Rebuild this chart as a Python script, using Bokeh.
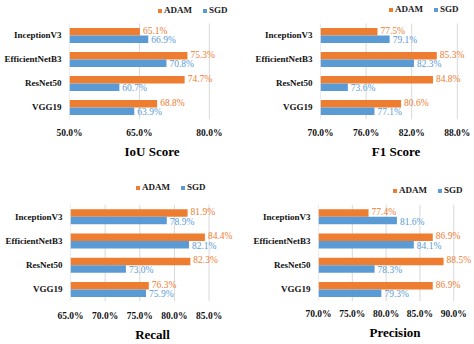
from bokeh.plotting import figure
from bokeh.layouts import column, row
from bokeh.models import ColumnDataSource, Range1d, FixedTicker, PrintfTickFormatter
from bokeh.transform import dodge
from bokeh.core.properties import value
from bokeh.embed import file_html
from bokeh.resources import INLINE

# ---------------- data ----------------
models = ["InceptionV3", "EfficientNetB3", "ResNet50", "VGG19"]
series_names = ["ADAM", "SGD"]

iou_adam = [65.1, 75.3, 74.7, 68.8]
iou_sgd = [66.9, 70.8, 60.7, 63.9]
f1_adam = [77.5, 85.3, 84.8, 80.6]
f1_sgd = [79.1, 82.3, 73.6, 77.1]
recall_adam = [81.9, 84.4, 82.3, 76.3]
recall_sgd = [78.9, 82.1, 73.0, 75.9]
precision_adam = [77.4, 86.9, 88.5, 86.9]
precision_sgd = [81.6, 84.1, 78.3, 79.3]

iou_ticks = [50, 65, 80]
f1_ticks = [70, 76, 82, 88]
recall_ticks = [65, 70, 75, 80, 85]
precision_ticks = [70, 75, 80, 85, 90]

titles = ["IoU Score", "F1 Score", "Recall", "Precision"]

# ---------------- style ----------------
ORANGE = "#ED7D31"
BLUE = "#5B9BD5"
GRID = "#D9D9D9"
FONT = "Liberation Serif"
BAR_H = 0.31
OFF = BAR_H / 2


def panel(title, adam, sgd, ticks, x_end, height, y_top, left_border,
          bottom_border, legend_loc, tick_standoff, title_standoff):
    n = len(models)
    p = figure(width=237, height=height,
               x_range=Range1d(ticks[0], x_end),
               y_range=Range1d(n - 0.5, y_top),
               output_backend="svg", toolbar_location=None,
               min_border_left=left_border, min_border_right=3,
               min_border_top=0, min_border_bottom=bottom_border)
    p.outline_line_color = None
    p.background_fill_color = "white"
    p.border_fill_color = "white"
    p.xgrid.visible = False
    p.ygrid.visible = False

    src = ColumnDataSource(dict(
        y=list(range(n)),
        adam=adam, sgd=sgd,
        adam_lbl=[f"{v:.1f}%" for v in adam],
        sgd_lbl=[f"{v:.1f}%" for v in sgd],
    ))

    p.segment(x0=ticks, x1=ticks, y0=-0.5, y1=n - 0.5,
              line_color=GRID, line_width=1, level="underlay")

    p.hbar(y=dodge("y", -OFF), left=ticks[0], right="adam", height=BAR_H,
           fill_color=ORANGE, line_color=None, legend_label=series_names[0],
           source=src)
    p.hbar(y=dodge("y", OFF), left=ticks[0], right="sgd", height=BAR_H,
           fill_color=BLUE, line_color=None, legend_label=series_names[1],
           source=src)

    p.text(x="adam", y=dodge("y", -OFF), text="adam_lbl", x_offset=3, y_offset=-1,
           text_font=value(FONT), text_font_size="9.5px", text_color=ORANGE,
           text_baseline="middle", text_align="left", source=src)
    p.text(x="sgd", y=dodge("y", OFF), text="sgd_lbl", x_offset=3, y_offset=1,
           text_font=value(FONT), text_font_size="9.5px", text_color=BLUE,
           text_baseline="middle", text_align="left", source=src)

    # x axis
    xa = p.xaxis[0]
    xa.ticker = FixedTicker(ticks=ticks)
    xa.formatter = PrintfTickFormatter(format="%.1f%%")
    xa.axis_line_color = None
    xa.major_tick_line_color = None
    xa.minor_tick_line_color = None
    xa.major_tick_out = 0
    xa.major_tick_in = 0
    xa.minor_tick_out = 0
    xa.minor_tick_in = 0
    xa.major_label_text_font = FONT
    xa.major_label_text_font_size = "9.5px"
    xa.major_label_text_font_style = "bold"
    xa.major_label_text_color = "#111111"
    xa.major_label_standoff = tick_standoff
    xa.axis_label = title
    xa.axis_label_text_font = FONT
    xa.axis_label_text_font_size = "13px"
    xa.axis_label_text_font_style = "bold"
    xa.axis_label_text_color = "#000000"
    xa.axis_label_standoff = title_standoff

    # y axis
    ya = p.yaxis[0]
    ya.ticker = FixedTicker(ticks=list(range(n)))
    ya.major_label_overrides = {i: m for i, m in enumerate(models)}
    ya.axis_line_color = None
    ya.major_tick_line_color = None
    ya.minor_tick_line_color = None
    ya.major_tick_out = 0
    ya.major_tick_in = 0
    ya.minor_tick_out = 0
    ya.minor_tick_in = 0
    ya.major_label_text_font = FONT
    ya.major_label_text_font_size = "9px"
    ya.major_label_text_font_style = "bold"
    ya.major_label_text_color = "#111111"
    ya.major_label_standoff = 8

    lg = p.legend[0]
    lg.location = legend_loc
    lg.orientation = "horizontal"
    lg.label_text_font = FONT
    lg.label_text_font_size = "9px"
    lg.label_text_font_style = "bold"
    lg.label_text_color = "#222222"
    lg.glyph_width = 5
    lg.glyph_height = 5
    lg.label_height = 10
    lg.label_standoff = 2
    lg.spacing = 10
    lg.padding = 0
    lg.margin = 0
    lg.border_line_color = None
    lg.background_fill_alpha = 0
    return p


p1 = panel(titles[0], iou_adam, iou_sgd, iou_ticks, 85.4, 176, -1.458, 69, 57,
           (88, 104), 8, 3)
p2 = panel(titles[1], f1_adam, f1_sgd, f1_ticks, 89.87, 176, -1.458, 83, 57,
           (68, 105), 8, 3)
p3 = panel(titles[2], recall_adam, recall_sgd, recall_ticks, 88.67, 168, -1.663, 70, 41,
           (65, 109), 9, 3)
p4 = panel(titles[3], precision_adam, precision_sgd, precision_ticks, 92.63, 168, -1.663, 81, 41,
           (74, 106), 7, 3)

layout = column(row(p1, p2, spacing=0), row(p3, p4, spacing=0), spacing=0)

open("out.html", "w").write(file_html(layout, INLINE))
